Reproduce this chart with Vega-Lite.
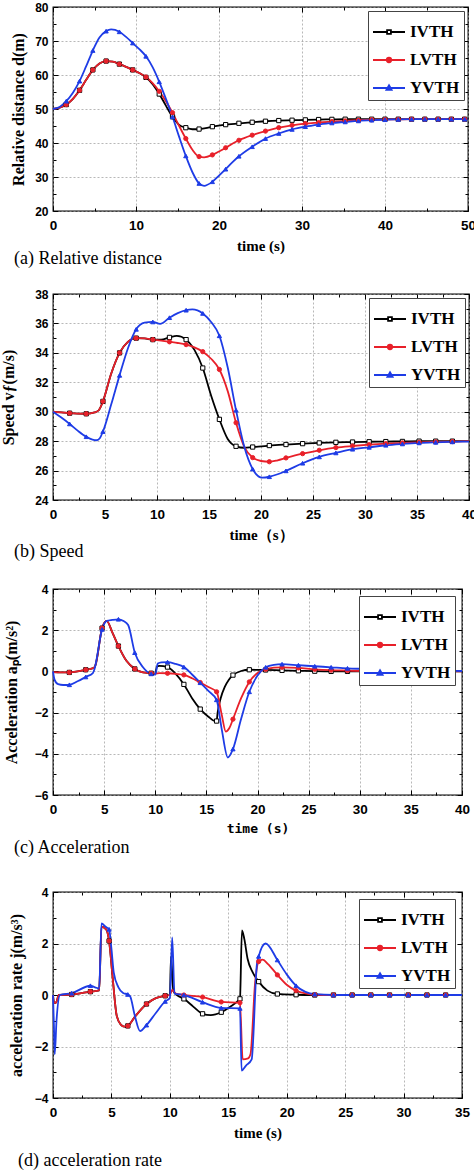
{
"$schema": "https://vega.github.io/schema/vega-lite/v6.json",
"padding": {"left": 0, "top": 0, "right": 0, "bottom": 0},
"columns": 1,
"spacing": 18,
"resolve": {"scale": {"color": "independent", "fill": "independent", "stroke": "independent", "shape": "independent"}, "legend": {"fill": "independent", "stroke": "independent", "shape": "independent"}},
"config": {
  "view": {"stroke": "#000", "strokeWidth": 1.3},
  "axis": {"domain": false, "tickSize": -5, "tickColor": "#000", "tickWidth": 1, "labelFont": "Liberation Sans", "labelFontWeight": "bold", "labelColor": "#000", "labelFlush": false, "labelOverlap": false, "gridColor": "#999", "gridDash": [2, 2], "gridWidth": 0.7, "titleFont": "Liberation Serif", "titleFontWeight": "bold", "titleColor": "#000"},
  "axisX": {"labelFontSize": 13.5, "labelPadding": 12, "titlePadding": 7, "titleFontSize": 15},
  "axisY": {"labelFontSize": 12, "labelPadding": 10, "titleFontSize": 16},
  "legend": {"orient": "top-right", "offset": 4, "fillColor": "#fff", "strokeColor": "#444", "padding": 4, "rowPadding": 3, "symbolSize": 1024, "symbolStrokeWidth": 1.8, "labelFont": "Liberation Serif", "labelFontSize": 17, "labelFontWeight": "bold", "labelColor": "#000", "labelOffset": 4},
  "title": {"font": "Liberation Serif", "fontSize": 18, "fontWeight": "normal", "color": "#000"}
},
"concat": [
{
  "width": 415, "height": 204,
  "data": {"name": "a"},
  "title": {"text": "(a) Relative distance", "orient": "bottom", "anchor": "start", "frame": "group", "offset": -4, "dx": -39},
  "layer": [
    {"mark": {"type": "line", "interpolate": "monotone", "strokeWidth": 1.8},
     "encoding": {
       "x": {"field": "t", "type": "quantitative", "scale": {"domain": [0, 50], "nice": false, "zero": false}, "axis": {"title": "time (s)", "values": [0,10,20,30,40,50]}},
       "y": {"field": "v", "type": "quantitative", "scale": {"domain": [20, 80], "nice": false, "zero": false}, "axis": {"title": "Relative distance d(m)", "titlePadding": 8, "values": [20,30,40,50,60,70,80]}},
       "color": {"field": "s", "type": "nominal", "scale": {"domain": ["IVTH", "LVTH", "YVTH"], "range": ["#000000", "#e8202a", "#1e3ce6"]}, "legend": null}
     }},
    {"transform": [{"filter": "datum.m == 1"}],
     "mark": {"type": "point", "opacity": 1, "strokeWidth": 1, "size": 18},
     "encoding": {
       "x": {"field": "t", "type": "quantitative", "scale": {"domain": [0, 50], "nice": false, "zero": false}, "axis": {"orient": "top", "title": null, "labels": false, "grid": false, "values": [0,10,20,30,40,50]}},
       "y": {"field": "v", "type": "quantitative", "scale": {"domain": [20, 80], "nice": false, "zero": false}, "axis": {"orient": "right", "title": null, "labels": false, "grid": false, "values": [20,30,40,50,60,70,80]}},
       "shape": {"field": "s", "type": "nominal", "scale": {"domain": ["IVTH", "LVTH", "YVTH"], "range": ["square", "circle", "triangle-up"]}, "legend": null},
       "fill": {"field": "s", "type": "nominal", "scale": {"domain": ["IVTH", "LVTH", "YVTH"], "range": ["#ffffff", "#e8202a", "#1e3ce6"]}, "legend": null},
       "stroke": {"field": "s", "type": "nominal", "scale": {"domain": ["IVTH", "LVTH", "YVTH"], "range": ["#000000", "#e8202a", "#1e3ce6"]}, "legend": null}
     }},
    {"transform": [{"filter": "datum.m == 2"}],
     "mark": {"type": "point", "opacity": 1, "strokeWidth": 1.8},
     "encoding": {
       "x": {"field": "t", "type": "quantitative", "scale": {"domain": [0, 50], "nice": false, "zero": false}, "axis": {"orient": "bottom", "title": null, "labels": false, "grid": false, "tickSize": -3, "values": [5,15,25,35,45]}},
       "y": {"field": "v", "type": "quantitative", "scale": {"domain": [20, 80], "nice": false, "zero": false}, "axis": {"orient": "left", "title": null, "labels": false, "grid": false, "tickSize": -3, "values": [25,35,45,55,65,75]}},
       "shape": {"field": "s", "type": "nominal", "scale": {"domain": ["IVTH", "LVTH", "YVTH"], "range": ["M-1,0H-0.12M0.12,0H1M-0.12,-0.12H0.12V0.12H-0.12Z", "M-1,0H1M0.14,0A0.14,0.14,0,1,1,-0.14,0A0.14,0.14,0,1,1,0.14,0Z", "M-1,0H1M0,-0.17L0.16,0.11H-0.16Z"]}, "legend": {"title": null}},
       "fill": {"field": "s", "type": "nominal", "scale": {"domain": ["IVTH", "LVTH", "YVTH"], "range": ["#ffffff", "#e8202a", "#1e3ce6"]}, "legend": {"title": null}},
       "stroke": {"field": "s", "type": "nominal", "scale": {"domain": ["IVTH", "LVTH", "YVTH"], "range": ["#000000", "#e8202a", "#1e3ce6"]}, "legend": {"title": null}}
     }},
    {"transform": [{"filter": "datum.m == 2"}],
     "mark": {"type": "point", "opacity": 0},
     "encoding": {
       "x": {"field": "t", "type": "quantitative", "scale": {"domain": [0, 50], "nice": false, "zero": false}, "axis": {"orient": "top", "title": null, "labels": false, "grid": false, "tickSize": -3, "values": [5,15,25,35,45]}},
       "y": {"field": "v", "type": "quantitative", "scale": {"domain": [20, 80], "nice": false, "zero": false}, "axis": {"orient": "right", "title": null, "labels": false, "grid": false, "tickSize": -3, "values": [25,35,45,55,65,75]}}
     }}
  ],
  "resolve": {"axis": {"x": "independent", "y": "independent"}, "scale": {"shape": "independent", "fill": "independent", "stroke": "independent"}}
},
{
  "width": 416, "height": 206,
  "data": {"name": "b"},
  "title": {"text": "(b) Speed", "subtitle": " ", "subtitleFontSize": 1, "subtitlePadding": 1, "orient": "bottom", "anchor": "start", "frame": "group", "offset": 0, "dx": -39},
  "layer": [
    {"mark": {"type": "line", "interpolate": "monotone", "strokeWidth": 1.8},
     "encoding": {
       "x": {"field": "t", "type": "quantitative", "scale": {"domain": [0, 40], "nice": false, "zero": false}, "axis": {"title": "time（s）", "values": [0,5,10,15,20,25,30,35,40]}},
       "y": {"field": "v", "type": "quantitative", "scale": {"domain": [24, 38], "nice": false, "zero": false}, "axis": {"title": "Speed vƒ(m/s)", "titlePadding": 18, "values": [24,26,28,30,32,34,36,38]}},
       "color": {"field": "s", "type": "nominal", "scale": {"domain": ["IVTH", "LVTH", "YVTH"], "range": ["#000000", "#e8202a", "#1e3ce6"]}, "legend": null}
     }},
    {"transform": [{"filter": "datum.m == 1"}],
     "mark": {"type": "point", "opacity": 1, "strokeWidth": 1, "size": 18},
     "encoding": {
       "x": {"field": "t", "type": "quantitative", "scale": {"domain": [0, 40], "nice": false, "zero": false}, "axis": {"orient": "top", "title": null, "labels": false, "grid": false, "values": [0,5,10,15,20,25,30,35,40]}},
       "y": {"field": "v", "type": "quantitative", "scale": {"domain": [24, 38], "nice": false, "zero": false}, "axis": {"orient": "right", "title": null, "labels": false, "grid": false, "values": [24,26,28,30,32,34,36,38]}},
       "shape": {"field": "s", "type": "nominal", "scale": {"domain": ["IVTH", "LVTH", "YVTH"], "range": ["square", "circle", "triangle-up"]}, "legend": null},
       "fill": {"field": "s", "type": "nominal", "scale": {"domain": ["IVTH", "LVTH", "YVTH"], "range": ["#ffffff", "#e8202a", "#1e3ce6"]}, "legend": null},
       "stroke": {"field": "s", "type": "nominal", "scale": {"domain": ["IVTH", "LVTH", "YVTH"], "range": ["#000000", "#e8202a", "#1e3ce6"]}, "legend": null}
     }},
    {"transform": [{"filter": "datum.m == 2"}],
     "mark": {"type": "point", "opacity": 1, "strokeWidth": 1.8},
     "encoding": {
       "x": {"field": "t", "type": "quantitative", "scale": {"domain": [0, 40], "nice": false, "zero": false}, "axis": {"orient": "bottom", "title": null, "labels": false, "grid": false, "tickSize": -3, "values": [2.5,7.5,12.5,17.5,22.5,27.5,32.5,37.5]}},
       "y": {"field": "v", "type": "quantitative", "scale": {"domain": [24, 38], "nice": false, "zero": false}, "axis": {"orient": "left", "title": null, "labels": false, "grid": false, "tickSize": -3, "values": [25,27,29,31,33,35,37]}},
       "shape": {"field": "s", "type": "nominal", "scale": {"domain": ["IVTH", "LVTH", "YVTH"], "range": ["M-1,0H-0.12M0.12,0H1M-0.12,-0.12H0.12V0.12H-0.12Z", "M-1,0H1M0.14,0A0.14,0.14,0,1,1,-0.14,0A0.14,0.14,0,1,1,0.14,0Z", "M-1,0H1M0,-0.17L0.16,0.11H-0.16Z"]}, "legend": {"title": null}},
       "fill": {"field": "s", "type": "nominal", "scale": {"domain": ["IVTH", "LVTH", "YVTH"], "range": ["#ffffff", "#e8202a", "#1e3ce6"]}, "legend": {"title": null}},
       "stroke": {"field": "s", "type": "nominal", "scale": {"domain": ["IVTH", "LVTH", "YVTH"], "range": ["#000000", "#e8202a", "#1e3ce6"]}, "legend": {"title": null}}
     }},
    {"transform": [{"filter": "datum.m == 2"}],
     "mark": {"type": "point", "opacity": 0},
     "encoding": {
       "x": {"field": "t", "type": "quantitative", "scale": {"domain": [0, 40], "nice": false, "zero": false}, "axis": {"orient": "top", "title": null, "labels": false, "grid": false, "tickSize": -3, "values": [2.5,7.5,12.5,17.5,22.5,27.5,32.5,37.5]}},
       "y": {"field": "v", "type": "quantitative", "scale": {"domain": [24, 38], "nice": false, "zero": false}, "axis": {"orient": "right", "title": null, "labels": false, "grid": false, "tickSize": -3, "values": [25,27,29,31,33,35,37]}}
     }}
  ],
  "resolve": {"axis": {"x": "independent", "y": "independent"}, "scale": {"shape": "independent", "fill": "independent", "stroke": "independent"}}
},
{
  "width": 409, "height": 206,
  "data": {"name": "c"},
  "title": {"text": "(c) Acceleration", "subtitle": " ", "subtitleFontSize": 1, "subtitlePadding": 8, "orient": "bottom", "anchor": "start", "frame": "group", "offset": 3, "dx": -39},
  "layer": [
    {"mark": {"type": "line", "interpolate": "monotone", "strokeWidth": 1.8},
     "encoding": {
       "x": {"field": "t", "type": "quantitative", "scale": {"domain": [0, 40], "nice": false, "zero": false}, "axis": {"title": "time (s)", "titleFont": "DejaVu Sans Mono", "titleFontSize": 13, "values": [0,5,10,15,20,25,30,35,40]}},
       "y": {"field": "v", "type": "quantitative", "scale": {"domain": [-6, 4], "nice": false, "zero": false}, "axis": {"title": "Acceleration aₚ(m/s²)", "titlePadding": 15, "values": [-6,-4,-2,0,2,4]}},
       "color": {"field": "s", "type": "nominal", "scale": {"domain": ["IVTH", "LVTH", "YVTH"], "range": ["#000000", "#e8202a", "#1e3ce6"]}, "legend": null}
     }},
    {"transform": [{"filter": "datum.m == 1"}],
     "mark": {"type": "point", "opacity": 1, "strokeWidth": 1, "size": 18},
     "encoding": {
       "x": {"field": "t", "type": "quantitative", "scale": {"domain": [0, 40], "nice": false, "zero": false}, "axis": {"orient": "top", "title": null, "labels": false, "grid": false, "values": [0,5,10,15,20,25,30,35,40]}},
       "y": {"field": "v", "type": "quantitative", "scale": {"domain": [-6, 4], "nice": false, "zero": false}, "axis": {"orient": "right", "title": null, "labels": false, "grid": false, "values": [-6,-4,-2,0,2,4]}},
       "shape": {"field": "s", "type": "nominal", "scale": {"domain": ["IVTH", "LVTH", "YVTH"], "range": ["square", "circle", "triangle-up"]}, "legend": null},
       "fill": {"field": "s", "type": "nominal", "scale": {"domain": ["IVTH", "LVTH", "YVTH"], "range": ["#ffffff", "#e8202a", "#1e3ce6"]}, "legend": null},
       "stroke": {"field": "s", "type": "nominal", "scale": {"domain": ["IVTH", "LVTH", "YVTH"], "range": ["#000000", "#e8202a", "#1e3ce6"]}, "legend": null}
     }},
    {"transform": [{"filter": "datum.m == 2"}],
     "mark": {"type": "point", "opacity": 1, "strokeWidth": 1.8},
     "encoding": {
       "x": {"field": "t", "type": "quantitative", "scale": {"domain": [0, 40], "nice": false, "zero": false}, "axis": {"orient": "bottom", "title": null, "labels": false, "grid": false, "tickSize": -3, "values": [2.5,7.5,12.5,17.5,22.5,27.5,32.5,37.5]}},
       "y": {"field": "v", "type": "quantitative", "scale": {"domain": [-6, 4], "nice": false, "zero": false}, "axis": {"orient": "left", "title": null, "labels": false, "grid": false, "tickSize": -3, "values": [-5,-3,-1,1,3]}},
       "shape": {"field": "s", "type": "nominal", "scale": {"domain": ["IVTH", "LVTH", "YVTH"], "range": ["M-1,0H-0.12M0.12,0H1M-0.12,-0.12H0.12V0.12H-0.12Z", "M-1,0H1M0.14,0A0.14,0.14,0,1,1,-0.14,0A0.14,0.14,0,1,1,0.14,0Z", "M-1,0H1M0,-0.17L0.16,0.11H-0.16Z"]}, "legend": {"title": null, "offset": 7}},
       "fill": {"field": "s", "type": "nominal", "scale": {"domain": ["IVTH", "LVTH", "YVTH"], "range": ["#ffffff", "#e8202a", "#1e3ce6"]}, "legend": {"title": null, "offset": 7}},
       "stroke": {"field": "s", "type": "nominal", "scale": {"domain": ["IVTH", "LVTH", "YVTH"], "range": ["#000000", "#e8202a", "#1e3ce6"]}, "legend": {"title": null, "offset": 7}}
     }},
    {"transform": [{"filter": "datum.m == 2"}],
     "mark": {"type": "point", "opacity": 0},
     "encoding": {
       "x": {"field": "t", "type": "quantitative", "scale": {"domain": [0, 40], "nice": false, "zero": false}, "axis": {"orient": "top", "title": null, "labels": false, "grid": false, "tickSize": -3, "values": [2.5,7.5,12.5,17.5,22.5,27.5,32.5,37.5]}},
       "y": {"field": "v", "type": "quantitative", "scale": {"domain": [-6, 4], "nice": false, "zero": false}, "axis": {"orient": "right", "title": null, "labels": false, "grid": false, "tickSize": -3, "values": [-5,-3,-1,1,3]}}
     }}
  ],
  "resolve": {"axis": {"x": "independent", "y": "independent"}, "scale": {"shape": "independent", "fill": "independent", "stroke": "independent"}}
},
{
  "width": 409, "height": 206,
  "data": {"name": "d"},
  "title": {"text": "(d) acceleration rate", "orient": "bottom", "anchor": "start", "frame": "group", "offset": 11, "dx": -35},
  "layer": [
    {"mark": {"type": "line", "interpolate": "monotone", "strokeWidth": 1.8},
     "encoding": {
       "x": {"field": "t", "type": "quantitative", "scale": {"domain": [0, 35], "nice": false, "zero": false}, "axis": {"title": "time (s)", "values": [0,5,10,15,20,25,30,35]}},
       "y": {"field": "v", "type": "quantitative", "scale": {"domain": [-4, 4], "nice": false, "zero": false}, "axis": {"title": "acceleration rate j(m/s³)", "titlePadding": 10, "values": [-4,-2,0,2,4]}},
       "color": {"field": "s", "type": "nominal", "scale": {"domain": ["IVTH", "LVTH", "YVTH"], "range": ["#000000", "#e8202a", "#1e3ce6"]}, "legend": null}
     }},
    {"transform": [{"filter": "datum.m == 1"}],
     "mark": {"type": "point", "opacity": 1, "strokeWidth": 1, "size": 18},
     "encoding": {
       "x": {"field": "t", "type": "quantitative", "scale": {"domain": [0, 35], "nice": false, "zero": false}, "axis": {"orient": "top", "title": null, "labels": false, "grid": false, "values": [0,5,10,15,20,25,30,35]}},
       "y": {"field": "v", "type": "quantitative", "scale": {"domain": [-4, 4], "nice": false, "zero": false}, "axis": {"orient": "right", "title": null, "labels": false, "grid": false, "values": [-4,-2,0,2,4]}},
       "shape": {"field": "s", "type": "nominal", "scale": {"domain": ["IVTH", "LVTH", "YVTH"], "range": ["square", "circle", "triangle-up"]}, "legend": null},
       "fill": {"field": "s", "type": "nominal", "scale": {"domain": ["IVTH", "LVTH", "YVTH"], "range": ["#ffffff", "#e8202a", "#1e3ce6"]}, "legend": null},
       "stroke": {"field": "s", "type": "nominal", "scale": {"domain": ["IVTH", "LVTH", "YVTH"], "range": ["#000000", "#e8202a", "#1e3ce6"]}, "legend": null}
     }},
    {"transform": [{"filter": "datum.m == 2"}],
     "mark": {"type": "point", "opacity": 1, "strokeWidth": 1.8},
     "encoding": {
       "x": {"field": "t", "type": "quantitative", "scale": {"domain": [0, 35], "nice": false, "zero": false}, "axis": {"orient": "bottom", "title": null, "labels": false, "grid": false, "tickSize": -3, "values": [2.5,7.5,12.5,17.5,22.5,27.5,32.5]}},
       "y": {"field": "v", "type": "quantitative", "scale": {"domain": [-4, 4], "nice": false, "zero": false}, "axis": {"orient": "left", "title": null, "labels": false, "grid": false, "tickSize": -3, "values": [-3,-1,1,3]}},
       "shape": {"field": "s", "type": "nominal", "scale": {"domain": ["IVTH", "LVTH", "YVTH"], "range": ["M-1,0H-0.12M0.12,0H1M-0.12,-0.12H0.12V0.12H-0.12Z", "M-1,0H1M0.14,0A0.14,0.14,0,1,1,-0.14,0A0.14,0.14,0,1,1,0.14,0Z", "M-1,0H1M0,-0.17L0.16,0.11H-0.16Z"]}, "legend": {"title": null, "offset": 7}},
       "fill": {"field": "s", "type": "nominal", "scale": {"domain": ["IVTH", "LVTH", "YVTH"], "range": ["#ffffff", "#e8202a", "#1e3ce6"]}, "legend": {"title": null, "offset": 7}},
       "stroke": {"field": "s", "type": "nominal", "scale": {"domain": ["IVTH", "LVTH", "YVTH"], "range": ["#000000", "#e8202a", "#1e3ce6"]}, "legend": {"title": null, "offset": 7}}
     }},
    {"transform": [{"filter": "datum.m == 2"}],
     "mark": {"type": "point", "opacity": 0},
     "encoding": {
       "x": {"field": "t", "type": "quantitative", "scale": {"domain": [0, 35], "nice": false, "zero": false}, "axis": {"orient": "top", "title": null, "labels": false, "grid": false, "tickSize": -3, "values": [2.5,7.5,12.5,17.5,22.5,27.5,32.5]}},
       "y": {"field": "v", "type": "quantitative", "scale": {"domain": [-4, 4], "nice": false, "zero": false}, "axis": {"orient": "right", "title": null, "labels": false, "grid": false, "tickSize": -3, "values": [-3,-1,1,3]}}
     }}
  ],
  "resolve": {"axis": {"x": "independent", "y": "independent"}, "scale": {"shape": "independent", "fill": "independent", "stroke": "independent"}}
}
],
"datasets": {
"a": [
{"s":"IVTH","t":0,"v":50,"m":0},{"s":"IVTH","t":0.8,"v":50.4,"m":0},{"s":"IVTH","t":1.6,"v":51.3,"m":1},{"s":"IVTH","t":2.4,"v":53,"m":0},{"s":"IVTH","t":3.2,"v":55.5,"m":1},{"s":"IVTH","t":4,"v":58.6,"m":0},{"s":"IVTH","t":4.8,"v":61.5,"m":1},{"s":"IVTH","t":5.6,"v":63.4,"m":0},{"s":"IVTH","t":6.4,"v":64.1,"m":1},{"s":"IVTH","t":7.2,"v":63.9,"m":0},{"s":"IVTH","t":8,"v":63.2,"m":1},{"s":"IVTH","t":8.8,"v":62.4,"m":0},{"s":"IVTH","t":9.6,"v":61.5,"m":1},{"s":"IVTH","t":10.4,"v":60.6,"m":0},{"s":"IVTH","t":11.2,"v":59.3,"m":1},{"s":"IVTH","t":12,"v":57.3,"m":0},{"s":"IVTH","t":12.8,"v":54.4,"m":1},{"s":"IVTH","t":13.6,"v":51,"m":0},{"s":"IVTH","t":14.4,"v":47.7,"m":1},{"s":"IVTH","t":15.2,"v":45.3,"m":0},{"s":"IVTH","t":16,"v":44.5,"m":1},{"s":"IVTH","t":16.8,"v":44.05,"m":0},{"s":"IVTH","t":17.6,"v":44.1,"m":1},{"s":"IVTH","t":18.4,"v":44.4,"m":0},{"s":"IVTH","t":19.2,"v":44.8,"m":1},{"s":"IVTH","t":20.8,"v":45.4,"m":1},{"s":"IVTH","t":22.4,"v":45.8,"m":1},{"s":"IVTH","t":24,"v":46.1,"m":1},{"s":"IVTH","t":25.6,"v":46.4,"m":1},{"s":"IVTH","t":27.2,"v":46.6,"m":1},{"s":"IVTH","t":28.8,"v":46.7,"m":1},{"s":"IVTH","t":30.4,"v":46.8,"m":1},{"s":"IVTH","t":32,"v":46.9,"m":1},{"s":"IVTH","t":33.6,"v":46.95,"m":1},{"s":"IVTH","t":35.2,"v":47,"m":1},{"s":"IVTH","t":36.8,"v":47,"m":1},{"s":"IVTH","t":38.4,"v":47,"m":1},{"s":"IVTH","t":40,"v":47,"m":1},{"s":"IVTH","t":41.6,"v":47,"m":1},{"s":"IVTH","t":43.2,"v":47,"m":1},{"s":"IVTH","t":44.8,"v":47,"m":1},{"s":"IVTH","t":46.4,"v":47,"m":1},{"s":"IVTH","t":48,"v":47,"m":1},{"s":"IVTH","t":49.6,"v":47,"m":1},{"s":"IVTH","t":50,"v":47,"m":0},
{"s":"LVTH","t":0,"v":50,"m":0},{"s":"LVTH","t":0.8,"v":50.4,"m":0},{"s":"LVTH","t":1.6,"v":51.3,"m":1},{"s":"LVTH","t":2.4,"v":53,"m":0},{"s":"LVTH","t":3.2,"v":55.5,"m":1},{"s":"LVTH","t":4,"v":58.6,"m":0},{"s":"LVTH","t":4.8,"v":61.5,"m":1},{"s":"LVTH","t":5.6,"v":63.4,"m":0},{"s":"LVTH","t":6.4,"v":64.1,"m":1},{"s":"LVTH","t":7.2,"v":63.9,"m":0},{"s":"LVTH","t":8,"v":63.2,"m":1},{"s":"LVTH","t":8.8,"v":62.4,"m":0},{"s":"LVTH","t":9.6,"v":61.5,"m":1},{"s":"LVTH","t":10.4,"v":60.6,"m":0},{"s":"LVTH","t":11.2,"v":59.4,"m":1},{"s":"LVTH","t":12,"v":57.6,"m":0},{"s":"LVTH","t":12.8,"v":55.2,"m":1},{"s":"LVTH","t":13.6,"v":52.3,"m":0},{"s":"LVTH","t":14.4,"v":48.9,"m":1},{"s":"LVTH","t":15.2,"v":45,"m":0},{"s":"LVTH","t":16,"v":41.3,"m":1},{"s":"LVTH","t":16.8,"v":38,"m":0},{"s":"LVTH","t":17.6,"v":36,"m":1},{"s":"LVTH","t":18.2,"v":35.8,"m":0},{"s":"LVTH","t":19.2,"v":36.5,"m":1},{"s":"LVTH","t":20,"v":37.5,"m":0},{"s":"LVTH","t":20.8,"v":38.6,"m":1},{"s":"LVTH","t":21.6,"v":39.8,"m":0},{"s":"LVTH","t":22.4,"v":40.8,"m":1},{"s":"LVTH","t":24,"v":42.3,"m":1},{"s":"LVTH","t":25.6,"v":43.5,"m":1},{"s":"LVTH","t":27.2,"v":44.5,"m":1},{"s":"LVTH","t":28.8,"v":45.2,"m":1},{"s":"LVTH","t":30.4,"v":45.7,"m":1},{"s":"LVTH","t":32,"v":46,"m":1},{"s":"LVTH","t":33.6,"v":46.3,"m":1},{"s":"LVTH","t":35.2,"v":46.5,"m":1},{"s":"LVTH","t":36.8,"v":46.7,"m":1},{"s":"LVTH","t":38.4,"v":46.85,"m":1},{"s":"LVTH","t":40,"v":46.9,"m":1},{"s":"LVTH","t":41.6,"v":46.95,"m":1},{"s":"LVTH","t":43.2,"v":47,"m":1},{"s":"LVTH","t":44.8,"v":47,"m":1},{"s":"LVTH","t":46.4,"v":47,"m":1},{"s":"LVTH","t":48,"v":47,"m":1},{"s":"LVTH","t":49.6,"v":47,"m":1},{"s":"LVTH","t":50,"v":47,"m":0},
{"s":"YVTH","t":0,"v":50,"m":0},{"s":"YVTH","t":0.8,"v":50.6,"m":0},{"s":"YVTH","t":1.6,"v":52.3,"m":1},{"s":"YVTH","t":2.4,"v":54.8,"m":0},{"s":"YVTH","t":3.2,"v":58.2,"m":1},{"s":"YVTH","t":4,"v":62.6,"m":0},{"s":"YVTH","t":4.8,"v":67.2,"m":1},{"s":"YVTH","t":5.6,"v":71,"m":0},{"s":"YVTH","t":6.4,"v":72.9,"m":1},{"s":"YVTH","t":7,"v":73.4,"m":0},{"s":"YVTH","t":8,"v":72.7,"m":1},{"s":"YVTH","t":8.8,"v":71.2,"m":0},{"s":"YVTH","t":9.6,"v":69.4,"m":1},{"s":"YVTH","t":10.4,"v":67.6,"m":0},{"s":"YVTH","t":11.2,"v":65.5,"m":1},{"s":"YVTH","t":12,"v":62.3,"m":0},{"s":"YVTH","t":12.8,"v":58,"m":1},{"s":"YVTH","t":13.6,"v":53,"m":0},{"s":"YVTH","t":14.4,"v":47.7,"m":1},{"s":"YVTH","t":15.2,"v":41.8,"m":0},{"s":"YVTH","t":16,"v":36.2,"m":1},{"s":"YVTH","t":16.8,"v":31.4,"m":0},{"s":"YVTH","t":17.6,"v":28.1,"m":1},{"s":"YVTH","t":18.2,"v":27.4,"m":0},{"s":"YVTH","t":19.2,"v":28.6,"m":1},{"s":"YVTH","t":20,"v":30.4,"m":0},{"s":"YVTH","t":20.8,"v":32.3,"m":1},{"s":"YVTH","t":21.6,"v":34.3,"m":0},{"s":"YVTH","t":22.4,"v":36.1,"m":1},{"s":"YVTH","t":24,"v":38.9,"m":1},{"s":"YVTH","t":25.6,"v":41.3,"m":1},{"s":"YVTH","t":27.2,"v":42.8,"m":1},{"s":"YVTH","t":28.8,"v":44,"m":1},{"s":"YVTH","t":30.4,"v":44.8,"m":1},{"s":"YVTH","t":32,"v":45.4,"m":1},{"s":"YVTH","t":33.6,"v":45.9,"m":1},{"s":"YVTH","t":35.2,"v":46.2,"m":1},{"s":"YVTH","t":36.8,"v":46.5,"m":1},{"s":"YVTH","t":38.4,"v":46.7,"m":1},{"s":"YVTH","t":40,"v":46.85,"m":1},{"s":"YVTH","t":41.6,"v":46.95,"m":1},{"s":"YVTH","t":43.2,"v":47,"m":1},{"s":"YVTH","t":44.8,"v":47,"m":1},{"s":"YVTH","t":46.4,"v":47,"m":1},{"s":"YVTH","t":48,"v":47,"m":1},{"s":"YVTH","t":49.6,"v":47,"m":1},{"s":"YVTH","t":50,"v":47,"m":0}
],
"b": [
{"s":"IVTH","t":0,"v":30,"m":0},{"s":"IVTH","t":0.8,"v":29.95,"m":0},{"s":"IVTH","t":1.6,"v":29.9,"m":1},{"s":"IVTH","t":2.4,"v":29.87,"m":0},{"s":"IVTH","t":3.2,"v":29.86,"m":1},{"s":"IVTH","t":4,"v":29.95,"m":0},{"s":"IVTH","t":4.4,"v":30.1,"m":0},{"s":"IVTH","t":4.8,"v":30.7,"m":1},{"s":"IVTH","t":5.6,"v":32.6,"m":0},{"s":"IVTH","t":6.4,"v":34,"m":1},{"s":"IVTH","t":7.2,"v":34.75,"m":0},{"s":"IVTH","t":8,"v":35,"m":1},{"s":"IVTH","t":8.8,"v":34.98,"m":0},{"s":"IVTH","t":9.6,"v":34.9,"m":1},{"s":"IVTH","t":10.4,"v":34.9,"m":0},{"s":"IVTH","t":11.2,"v":35.05,"m":1},{"s":"IVTH","t":11.9,"v":35.15,"m":0},{"s":"IVTH","t":12.8,"v":34.9,"m":1},{"s":"IVTH","t":13.6,"v":34.2,"m":0},{"s":"IVTH","t":14.4,"v":32.97,"m":1},{"s":"IVTH","t":15.2,"v":31.1,"m":0},{"s":"IVTH","t":16,"v":29.48,"m":1},{"s":"IVTH","t":16.8,"v":28.15,"m":0},{"s":"IVTH","t":17.6,"v":27.65,"m":1},{"s":"IVTH","t":18.4,"v":27.55,"m":0},{"s":"IVTH","t":19.2,"v":27.6,"m":1},{"s":"IVTH","t":20.8,"v":27.7,"m":1},{"s":"IVTH","t":22.4,"v":27.77,"m":1},{"s":"IVTH","t":24,"v":27.83,"m":1},{"s":"IVTH","t":25.6,"v":27.88,"m":1},{"s":"IVTH","t":27.2,"v":27.92,"m":1},{"s":"IVTH","t":28.8,"v":27.94,"m":1},{"s":"IVTH","t":30.4,"v":27.96,"m":1},{"s":"IVTH","t":32,"v":27.97,"m":1},{"s":"IVTH","t":33.6,"v":27.98,"m":1},{"s":"IVTH","t":35.2,"v":28,"m":1},{"s":"IVTH","t":36.8,"v":28,"m":1},{"s":"IVTH","t":38.4,"v":28,"m":1},{"s":"IVTH","t":40,"v":28,"m":0},
{"s":"LVTH","t":0,"v":30,"m":0},{"s":"LVTH","t":0.8,"v":29.95,"m":0},{"s":"LVTH","t":1.6,"v":29.9,"m":1},{"s":"LVTH","t":2.4,"v":29.87,"m":0},{"s":"LVTH","t":3.2,"v":29.86,"m":1},{"s":"LVTH","t":4,"v":29.95,"m":0},{"s":"LVTH","t":4.4,"v":30.1,"m":0},{"s":"LVTH","t":4.8,"v":30.7,"m":1},{"s":"LVTH","t":5.6,"v":32.6,"m":0},{"s":"LVTH","t":6.4,"v":34,"m":1},{"s":"LVTH","t":7.2,"v":34.75,"m":0},{"s":"LVTH","t":8,"v":35,"m":1},{"s":"LVTH","t":8.8,"v":34.98,"m":0},{"s":"LVTH","t":9.6,"v":34.9,"m":1},{"s":"LVTH","t":10.4,"v":34.83,"m":0},{"s":"LVTH","t":11.2,"v":34.75,"m":1},{"s":"LVTH","t":12,"v":34.67,"m":0},{"s":"LVTH","t":12.8,"v":34.56,"m":1},{"s":"LVTH","t":13.6,"v":34.37,"m":0},{"s":"LVTH","t":14.4,"v":34.08,"m":1},{"s":"LVTH","t":15.2,"v":33.6,"m":0},{"s":"LVTH","t":16,"v":32.87,"m":1},{"s":"LVTH","t":16.8,"v":31.4,"m":0},{"s":"LVTH","t":17.6,"v":29.25,"m":1},{"s":"LVTH","t":18.4,"v":27.6,"m":0},{"s":"LVTH","t":19.2,"v":26.88,"m":1},{"s":"LVTH","t":20,"v":26.65,"m":0},{"s":"LVTH","t":20.8,"v":26.6,"m":1},{"s":"LVTH","t":21.6,"v":26.7,"m":0},{"s":"LVTH","t":22.4,"v":26.86,"m":1},{"s":"LVTH","t":24,"v":27.15,"m":1},{"s":"LVTH","t":25.6,"v":27.38,"m":1},{"s":"LVTH","t":27.2,"v":27.56,"m":1},{"s":"LVTH","t":28.8,"v":27.67,"m":1},{"s":"LVTH","t":30.4,"v":27.76,"m":1},{"s":"LVTH","t":32,"v":27.83,"m":1},{"s":"LVTH","t":33.6,"v":27.88,"m":1},{"s":"LVTH","t":35.2,"v":27.92,"m":1},{"s":"LVTH","t":36.8,"v":27.95,"m":1},{"s":"LVTH","t":38.4,"v":27.97,"m":1},{"s":"LVTH","t":40,"v":28,"m":0},
{"s":"YVTH","t":0,"v":30,"m":0},{"s":"YVTH","t":0.8,"v":29.6,"m":0},{"s":"YVTH","t":1.6,"v":29.17,"m":1},{"s":"YVTH","t":2.4,"v":28.7,"m":0},{"s":"YVTH","t":3.2,"v":28.3,"m":1},{"s":"YVTH","t":3.8,"v":28.1,"m":0},{"s":"YVTH","t":4.2,"v":28.06,"m":0},{"s":"YVTH","t":4.5,"v":28.2,"m":0},{"s":"YVTH","t":4.8,"v":28.65,"m":1},{"s":"YVTH","t":5.6,"v":30.5,"m":0},{"s":"YVTH","t":6.4,"v":32.47,"m":1},{"s":"YVTH","t":7.2,"v":34.3,"m":0},{"s":"YVTH","t":8,"v":35.6,"m":1},{"s":"YVTH","t":8.8,"v":36.05,"m":0},{"s":"YVTH","t":9.6,"v":36.1,"m":1},{"s":"YVTH","t":10.3,"v":35.97,"m":0},{"s":"YVTH","t":11.2,"v":36.39,"m":1},{"s":"YVTH","t":12,"v":36.7,"m":0},{"s":"YVTH","t":12.8,"v":36.9,"m":1},{"s":"YVTH","t":13.4,"v":36.95,"m":0},{"s":"YVTH","t":14.4,"v":36.68,"m":1},{"s":"YVTH","t":15.2,"v":36.1,"m":0},{"s":"YVTH","t":16,"v":35.16,"m":1},{"s":"YVTH","t":16.8,"v":33,"m":0},{"s":"YVTH","t":17.6,"v":30.1,"m":1},{"s":"YVTH","t":18.4,"v":27.6,"m":0},{"s":"YVTH","t":19.2,"v":26.1,"m":1},{"s":"YVTH","t":20.1,"v":25.52,"m":0},{"s":"YVTH","t":20.8,"v":25.58,"m":1},{"s":"YVTH","t":21.6,"v":25.75,"m":0},{"s":"YVTH","t":22.4,"v":25.98,"m":1},{"s":"YVTH","t":24,"v":26.5,"m":1},{"s":"YVTH","t":25.6,"v":26.93,"m":1},{"s":"YVTH","t":27.2,"v":27.2,"m":1},{"s":"YVTH","t":28.8,"v":27.45,"m":1},{"s":"YVTH","t":30.4,"v":27.58,"m":1},{"s":"YVTH","t":32,"v":27.72,"m":1},{"s":"YVTH","t":33.6,"v":27.81,"m":1},{"s":"YVTH","t":35.2,"v":27.88,"m":1},{"s":"YVTH","t":36.8,"v":27.92,"m":1},{"s":"YVTH","t":38.4,"v":27.95,"m":1},{"s":"YVTH","t":40,"v":27.97,"m":0}
],
"c": [
{"s":"IVTH","t":0,"v":-0.04,"m":0},{"s":"IVTH","t":0.8,"v":-0.05,"m":0},{"s":"IVTH","t":1.6,"v":-0.05,"m":1},{"s":"IVTH","t":2.4,"v":0,"m":0},{"s":"IVTH","t":3.2,"v":0.08,"m":1},{"s":"IVTH","t":4,"v":0.17,"m":0},{"s":"IVTH","t":4.15,"v":0.3,"m":0},{"s":"IVTH","t":4.8,"v":2.1,"m":1},{"s":"IVTH","t":5.25,"v":2.45,"m":0},{"s":"IVTH","t":5.8,"v":1.9,"m":0},{"s":"IVTH","t":6.4,"v":1.23,"m":1},{"s":"IVTH","t":7.2,"v":0.5,"m":0},{"s":"IVTH","t":8,"v":0.12,"m":1},{"s":"IVTH","t":8.8,"v":-0.05,"m":0},{"s":"IVTH","t":9.6,"v":-0.09,"m":1},{"s":"IVTH","t":10,"v":-0.11,"m":0},{"s":"IVTH","t":10.15,"v":0.22,"m":0},{"s":"IVTH","t":10.4,"v":0.27,"m":0},{"s":"IVTH","t":11.2,"v":0.21,"m":1},{"s":"IVTH","t":12,"v":-0.12,"m":0},{"s":"IVTH","t":12.8,"v":-0.63,"m":1},{"s":"IVTH","t":13.6,"v":-1.3,"m":0},{"s":"IVTH","t":14.4,"v":-1.83,"m":1},{"s":"IVTH","t":15.2,"v":-2.2,"m":0},{"s":"IVTH","t":15.9,"v":-2.42,"m":0},{"s":"IVTH","t":16,"v":-2.41,"m":1},{"s":"IVTH","t":16.1,"v":-2.0,"m":0},{"s":"IVTH","t":16.4,"v":-1.3,"m":0},{"s":"IVTH","t":16.8,"v":-0.75,"m":0},{"s":"IVTH","t":17.2,"v":-0.4,"m":0},{"s":"IVTH","t":17.6,"v":-0.18,"m":1},{"s":"IVTH","t":18.4,"v":0.02,"m":0},{"s":"IVTH","t":19.2,"v":0.08,"m":1},{"s":"IVTH","t":20.8,"v":0.07,"m":1},{"s":"IVTH","t":22.4,"v":0.05,"m":1},{"s":"IVTH","t":24,"v":0.03,"m":1},{"s":"IVTH","t":25.6,"v":0.01,"m":1},{"s":"IVTH","t":27.2,"v":0,"m":1},{"s":"IVTH","t":28.8,"v":0,"m":1},{"s":"IVTH","t":30.4,"v":0,"m":1},{"s":"IVTH","t":32,"v":0,"m":1},{"s":"IVTH","t":33.6,"v":0,"m":1},{"s":"IVTH","t":35.2,"v":0,"m":1},{"s":"IVTH","t":36.8,"v":0,"m":1},{"s":"IVTH","t":38.4,"v":0,"m":1},{"s":"IVTH","t":40,"v":0,"m":0},
{"s":"LVTH","t":0,"v":-0.04,"m":0},{"s":"LVTH","t":0.8,"v":-0.05,"m":0},{"s":"LVTH","t":1.6,"v":-0.05,"m":1},{"s":"LVTH","t":2.4,"v":0,"m":0},{"s":"LVTH","t":3.2,"v":0.08,"m":1},{"s":"LVTH","t":4,"v":0.17,"m":0},{"s":"LVTH","t":4.15,"v":0.3,"m":0},{"s":"LVTH","t":4.8,"v":2.1,"m":1},{"s":"LVTH","t":5.25,"v":2.45,"m":0},{"s":"LVTH","t":5.8,"v":1.9,"m":0},{"s":"LVTH","t":6.4,"v":1.23,"m":1},{"s":"LVTH","t":7.2,"v":0.5,"m":0},{"s":"LVTH","t":8,"v":0.12,"m":1},{"s":"LVTH","t":8.8,"v":-0.05,"m":0},{"s":"LVTH","t":9.6,"v":-0.09,"m":1},{"s":"LVTH","t":10,"v":-0.11,"m":0},{"s":"LVTH","t":10.4,"v":-0.08,"m":0},{"s":"LVTH","t":11.2,"v":-0.09,"m":1},{"s":"LVTH","t":12,"v":-0.12,"m":0},{"s":"LVTH","t":12.8,"v":-0.17,"m":1},{"s":"LVTH","t":13.6,"v":-0.33,"m":0},{"s":"LVTH","t":14.4,"v":-0.54,"m":1},{"s":"LVTH","t":15.2,"v":-0.76,"m":0},{"s":"LVTH","t":16,"v":-0.99,"m":1},{"s":"LVTH","t":16.5,"v":-2.1,"m":0},{"s":"LVTH","t":16.9,"v":-2.92,"m":0},{"s":"LVTH","t":17.25,"v":-2.75,"m":0},{"s":"LVTH","t":17.6,"v":-2.32,"m":1},{"s":"LVTH","t":18.4,"v":-1.3,"m":0},{"s":"LVTH","t":19.2,"v":-0.51,"m":1},{"s":"LVTH","t":20,"v":-0.08,"m":0},{"s":"LVTH","t":20.8,"v":0.1,"m":1},{"s":"LVTH","t":21.6,"v":0.18,"m":0},{"s":"LVTH","t":22.4,"v":0.2,"m":1},{"s":"LVTH","t":24,"v":0.17,"m":1},{"s":"LVTH","t":25.6,"v":0.1,"m":1},{"s":"LVTH","t":27.2,"v":0.06,"m":1},{"s":"LVTH","t":28.8,"v":0.04,"m":1},{"s":"LVTH","t":30.4,"v":0.02,"m":1},{"s":"LVTH","t":32,"v":0.01,"m":1},{"s":"LVTH","t":33.6,"v":0,"m":1},{"s":"LVTH","t":35.2,"v":0,"m":1},{"s":"LVTH","t":36.8,"v":0,"m":1},{"s":"LVTH","t":38.4,"v":0,"m":1},{"s":"LVTH","t":40,"v":0,"m":0},
{"s":"YVTH","t":0,"v":0,"m":0},{"s":"YVTH","t":0.15,"v":-0.4,"m":0},{"s":"YVTH","t":0.5,"v":-0.62,"m":0},{"s":"YVTH","t":1,"v":-0.66,"m":0},{"s":"YVTH","t":1.6,"v":-0.65,"m":1},{"s":"YVTH","t":2.4,"v":-0.48,"m":0},{"s":"YVTH","t":3.2,"v":-0.27,"m":1},{"s":"YVTH","t":3.9,"v":-0.08,"m":0},{"s":"YVTH","t":4.05,"v":0.1,"m":0},{"s":"YVTH","t":4.8,"v":2.04,"m":1},{"s":"YVTH","t":5.25,"v":2.45,"m":0},{"s":"YVTH","t":5.8,"v":2.5,"m":0},{"s":"YVTH","t":6.4,"v":2.53,"m":1},{"s":"YVTH","t":6.9,"v":2.45,"m":0},{"s":"YVTH","t":7.35,"v":2.25,"m":0},{"s":"YVTH","t":8,"v":0.91,"m":1},{"s":"YVTH","t":8.8,"v":0.2,"m":0},{"s":"YVTH","t":9.6,"v":-0.12,"m":1},{"s":"YVTH","t":10,"v":-0.15,"m":0},{"s":"YVTH","t":10.25,"v":0.38,"m":0},{"s":"YVTH","t":10.6,"v":0.44,"m":0},{"s":"YVTH","t":11.2,"v":0.45,"m":1},{"s":"YVTH","t":12,"v":0.36,"m":0},{"s":"YVTH","t":12.8,"v":0.21,"m":1},{"s":"YVTH","t":13.6,"v":-0.15,"m":0},{"s":"YVTH","t":14.4,"v":-0.55,"m":1},{"s":"YVTH","t":15.2,"v":-0.95,"m":0},{"s":"YVTH","t":16,"v":-1.38,"m":1},{"s":"YVTH","t":16.5,"v":-2.8,"m":0},{"s":"YVTH","t":17.1,"v":-4.18,"m":0},{"s":"YVTH","t":17.6,"v":-3.77,"m":1},{"s":"YVTH","t":18.4,"v":-2.3,"m":0},{"s":"YVTH","t":19.2,"v":-0.99,"m":1},{"s":"YVTH","t":20,"v":-0.2,"m":0},{"s":"YVTH","t":20.8,"v":0.2,"m":1},{"s":"YVTH","t":21.6,"v":0.32,"m":0},{"s":"YVTH","t":22.4,"v":0.35,"m":1},{"s":"YVTH","t":24,"v":0.3,"m":1},{"s":"YVTH","t":25.6,"v":0.25,"m":1},{"s":"YVTH","t":27.2,"v":0.2,"m":1},{"s":"YVTH","t":28.8,"v":0.15,"m":1},{"s":"YVTH","t":30.4,"v":0.12,"m":1},{"s":"YVTH","t":32,"v":0.09,"m":1},{"s":"YVTH","t":33.6,"v":0.07,"m":1},{"s":"YVTH","t":35.2,"v":0.06,"m":1},{"s":"YVTH","t":36.8,"v":0.04,"m":1},{"s":"YVTH","t":38.4,"v":0.03,"m":1},{"s":"YVTH","t":40,"v":0.02,"m":0}
],
"d": [
{"s":"IVTH","t":0,"v":0,"m":0},{"s":"IVTH","t":0.1,"v":-0.3,"m":0},{"s":"IVTH","t":0.25,"v":-0.3,"m":0},{"s":"IVTH","t":0.5,"v":0,"m":0},{"s":"IVTH","t":1.6,"v":0.02,"m":1},{"s":"IVTH","t":3.2,"v":0.13,"m":1},{"s":"IVTH","t":3.95,"v":0.18,"m":0},{"s":"IVTH","t":4.15,"v":2.65,"m":0},{"s":"IVTH","t":4.55,"v":2.55,"m":0},{"s":"IVTH","t":4.8,"v":2.1,"m":1},{"s":"IVTH","t":5.1,"v":0.7,"m":0},{"s":"IVTH","t":5.45,"v":-0.8,"m":0},{"s":"IVTH","t":5.8,"v":-1.15,"m":0},{"s":"IVTH","t":6.1,"v":-1.23,"m":0},{"s":"IVTH","t":6.4,"v":-1.2,"m":1},{"s":"IVTH","t":7,"v":-0.85,"m":0},{"s":"IVTH","t":8,"v":-0.35,"m":1},{"s":"IVTH","t":8.8,"v":-0.12,"m":0},{"s":"IVTH","t":9.6,"v":-0.03,"m":1},{"s":"IVTH","t":10,"v":0,"m":0},{"s":"IVTH","t":10.1,"v":1.5,"m":0},{"s":"IVTH","t":10.3,"v":0.15,"m":0},{"s":"IVTH","t":10.6,"v":0,"m":0},{"s":"IVTH","t":11.2,"v":-0.15,"m":1},{"s":"IVTH","t":12,"v":-0.45,"m":0},{"s":"IVTH","t":12.8,"v":-0.73,"m":1},{"s":"IVTH","t":13.5,"v":-0.78,"m":0},{"s":"IVTH","t":14.4,"v":-0.67,"m":1},{"s":"IVTH","t":15.2,"v":-0.45,"m":0},{"s":"IVTH","t":15.9,"v":-0.2,"m":0},{"s":"IVTH","t":16,"v":-0.15,"m":1},{"s":"IVTH","t":16.17,"v":2.51,"m":0},{"s":"IVTH","t":16.37,"v":2.18,"m":0},{"s":"IVTH","t":16.65,"v":1.41,"m":0},{"s":"IVTH","t":17.08,"v":0.89,"m":0},{"s":"IVTH","t":17.6,"v":0.52,"m":1},{"s":"IVTH","t":18.35,"v":0.17,"m":0},{"s":"IVTH","t":19.2,"v":0.04,"m":1},{"s":"IVTH","t":20.8,"v":0.01,"m":1},{"s":"IVTH","t":22.4,"v":0,"m":1},{"s":"IVTH","t":24,"v":0,"m":1},{"s":"IVTH","t":25.6,"v":0,"m":1},{"s":"IVTH","t":27.2,"v":0,"m":1},{"s":"IVTH","t":28.8,"v":0,"m":1},{"s":"IVTH","t":30.4,"v":0,"m":1},{"s":"IVTH","t":32,"v":0,"m":1},{"s":"IVTH","t":33.6,"v":0,"m":1},{"s":"IVTH","t":35,"v":0,"m":0},
{"s":"LVTH","t":0,"v":0,"m":0},{"s":"LVTH","t":0.1,"v":-0.3,"m":0},{"s":"LVTH","t":0.25,"v":-0.3,"m":0},{"s":"LVTH","t":0.5,"v":0,"m":0},{"s":"LVTH","t":1.6,"v":0.02,"m":1},{"s":"LVTH","t":3.2,"v":0.13,"m":1},{"s":"LVTH","t":3.95,"v":0.18,"m":0},{"s":"LVTH","t":4.15,"v":2.65,"m":0},{"s":"LVTH","t":4.55,"v":2.55,"m":0},{"s":"LVTH","t":4.8,"v":2.1,"m":1},{"s":"LVTH","t":5.1,"v":0.7,"m":0},{"s":"LVTH","t":5.45,"v":-0.8,"m":0},{"s":"LVTH","t":5.8,"v":-1.15,"m":0},{"s":"LVTH","t":6.1,"v":-1.23,"m":0},{"s":"LVTH","t":6.4,"v":-1.2,"m":1},{"s":"LVTH","t":7,"v":-0.85,"m":0},{"s":"LVTH","t":8,"v":-0.35,"m":1},{"s":"LVTH","t":8.8,"v":-0.12,"m":0},{"s":"LVTH","t":9.6,"v":-0.03,"m":1},{"s":"LVTH","t":10,"v":0,"m":0},{"s":"LVTH","t":10.2,"v":0.2,"m":0},{"s":"LVTH","t":10.5,"v":0.05,"m":0},{"s":"LVTH","t":11.2,"v":0,"m":1},{"s":"LVTH","t":12.8,"v":-0.08,"m":1},{"s":"LVTH","t":14.4,"v":-0.27,"m":1},{"s":"LVTH","t":16,"v":-0.3,"m":1},{"s":"LVTH","t":16.23,"v":-2.5,"m":0},{"s":"LVTH","t":16.7,"v":-2.46,"m":0},{"s":"LVTH","t":16.9,"v":-2.3,"m":0},{"s":"LVTH","t":17.3,"v":0.5,"m":0},{"s":"LVTH","t":17.6,"v":1.3,"m":1},{"s":"LVTH","t":17.95,"v":1.37,"m":0},{"s":"LVTH","t":18.4,"v":1.2,"m":0},{"s":"LVTH","t":19.2,"v":0.78,"m":1},{"s":"LVTH","t":20,"v":0.4,"m":0},{"s":"LVTH","t":20.8,"v":0.17,"m":1},{"s":"LVTH","t":21.6,"v":0.06,"m":0},{"s":"LVTH","t":22.4,"v":0.01,"m":1},{"s":"LVTH","t":24,"v":0,"m":1},{"s":"LVTH","t":25.6,"v":0,"m":1},{"s":"LVTH","t":27.2,"v":0,"m":1},{"s":"LVTH","t":28.8,"v":0,"m":1},{"s":"LVTH","t":30.4,"v":0,"m":1},{"s":"LVTH","t":32,"v":0,"m":1},{"s":"LVTH","t":33.6,"v":0,"m":1},{"s":"LVTH","t":35,"v":0,"m":0},
{"s":"YVTH","t":0,"v":0,"m":0},{"s":"YVTH","t":0.08,"v":-1.2,"m":0},{"s":"YVTH","t":0.15,"v":-2.3,"m":0},{"s":"YVTH","t":0.3,"v":-1,"m":0},{"s":"YVTH","t":0.6,"v":0,"m":0},{"s":"YVTH","t":1.6,"v":0.07,"m":1},{"s":"YVTH","t":3.2,"v":0.36,"m":1},{"s":"YVTH","t":3.6,"v":0.3,"m":0},{"s":"YVTH","t":3.95,"v":0.25,"m":0},{"s":"YVTH","t":4.15,"v":2.78,"m":0},{"s":"YVTH","t":4.5,"v":2.65,"m":0},{"s":"YVTH","t":4.8,"v":2.55,"m":1},{"s":"YVTH","t":5,"v":1.8,"m":0},{"s":"YVTH","t":5.2,"v":0.87,"m":0},{"s":"YVTH","t":5.6,"v":0.3,"m":0},{"s":"YVTH","t":6,"v":0.08,"m":0},{"s":"YVTH","t":6.4,"v":0.02,"m":1},{"s":"YVTH","t":6.6,"v":-0.05,"m":0},{"s":"YVTH","t":7,"v":-0.8,"m":0},{"s":"YVTH","t":7.45,"v":-1.4,"m":0},{"s":"YVTH","t":8,"v":-1.17,"m":1},{"s":"YVTH","t":8.8,"v":-0.7,"m":0},{"s":"YVTH","t":9.6,"v":-0.25,"m":1},{"s":"YVTH","t":10,"v":-0.12,"m":0},{"s":"YVTH","t":10.2,"v":2.24,"m":0},{"s":"YVTH","t":10.4,"v":0.05,"m":0},{"s":"YVTH","t":11.2,"v":0,"m":1},{"s":"YVTH","t":12.8,"v":-0.28,"m":1},{"s":"YVTH","t":14.4,"v":-0.5,"m":1},{"s":"YVTH","t":16,"v":-0.52,"m":1},{"s":"YVTH","t":16.14,"v":-2.94,"m":0},{"s":"YVTH","t":16.5,"v":-2.75,"m":0},{"s":"YVTH","t":17,"v":-2.5,"m":0},{"s":"YVTH","t":17.45,"v":1.2,"m":0},{"s":"YVTH","t":17.6,"v":1.5,"m":1},{"s":"YVTH","t":18.2,"v":2,"m":0},{"s":"YVTH","t":19.2,"v":1.36,"m":1},{"s":"YVTH","t":20,"v":0.8,"m":0},{"s":"YVTH","t":20.8,"v":0.36,"m":1},{"s":"YVTH","t":21.6,"v":0.12,"m":0},{"s":"YVTH","t":22.4,"v":0.03,"m":1},{"s":"YVTH","t":24,"v":0,"m":1},{"s":"YVTH","t":25.6,"v":0,"m":1},{"s":"YVTH","t":27.2,"v":0,"m":1},{"s":"YVTH","t":28.8,"v":0,"m":1},{"s":"YVTH","t":30.4,"v":0,"m":1},{"s":"YVTH","t":32,"v":0,"m":1},{"s":"YVTH","t":33.6,"v":0,"m":1},{"s":"YVTH","t":35,"v":0,"m":0}
]
}
}
